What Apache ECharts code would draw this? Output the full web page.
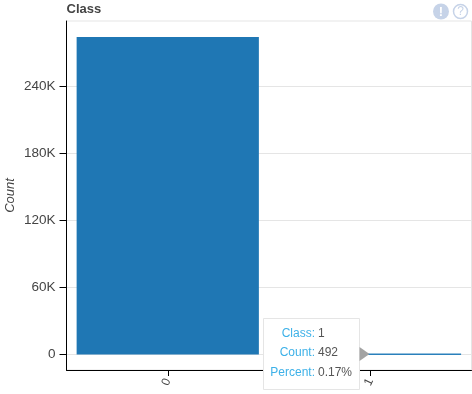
<!DOCTYPE html>
<html><head><meta charset="utf-8">
<style>html,body{margin:0;padding:0;background:#fff}#c{width:472px;height:394px}</style>
<script src="https://cdn.jsdelivr.net/npm/echarts@6/dist/echarts.min.js"></script>
</head><body><div id="c"></div>
<script>
const categories = ['0', '1'];
const counts = [284315, 492];
const yTicks = [0, 60000, 120000, 180000, 240000];
const tooltipKeys = ['Class:', 'Count:', 'Percent:'];
const tooltipVals = ['1', '492', '0.17%'];
const font = '"Liberation Sans", Helvetica, Arial, sans-serif';
const chart = echarts.init(document.getElementById('c'), null, {renderer: 'canvas'});
const rows = [];
tooltipKeys.forEach((k, i) => {
  rows.push({type: 'text', z: 101, x: 315, y: 333.5 + i * 19.5, style: {text: k, fill: '#3db1e8', font: '12px ' + font, align: 'right', verticalAlign: 'middle'}});
  rows.push({type: 'text', z: 101, x: 318, y: 333.5 + i * 19.5, style: {text: tooltipVals[i], fill: '#555', font: '12px ' + font, align: 'left', verticalAlign: 'middle'}});
});
chart.setOption({
  animation: false,
  backgroundColor: '#fff',
  title: {text: 'Class', left: 66.5, top: 3, padding: 0, textStyle: {fontFamily: font, fontSize: 13, fontWeight: 'bold', color: '#444'}},
  grid: {left: 66.5, right: 0.5, top: 21, bottom: 24, outerBoundsMode: 'none', containLabel: false, show: true, borderColor: '#e5e5e5', borderWidth: 1, backgroundColor: 'transparent'},
  xAxis: {
    type: 'category', data: categories,
    axisLine: {lineStyle: {color: '#000', width: 1}, onZero: false},
    axisTick: {show: true, alignWithLabel: true, length: 6, inside: false, lineStyle: {color: '#000'}},
    axisLabel: {rotate: 65, margin: 9, fontFamily: font, fontSize: 12, color: '#444'},
    splitLine: {show: false}
  },
  yAxis: {
    type: 'value', min: -13900, max: 298700,
    name: 'Count', nameLocation: 'middle', nameGap: 50, nameMoveOverlap: false,
    nameTextStyle: {fontFamily: font, fontSize: 13, fontStyle: 'italic', color: '#444'},
    axisLine: {show: true, lineStyle: {color: '#000'}},
    axisTick: {show: true, length: 7, customValues: yTicks, lineStyle: {color: '#000'}},
    axisLabel: {customValues: yTicks, margin: 11, fontFamily: font, fontSize: 13.5, color: '#444',
      formatter: v => v === 0 ? '0' : (v / 1000) + 'K'},
    splitLine: {show: true, lineStyle: {color: '#e5e5e5'}}
  },
  series: [{
    type: 'bar', barWidth: '90%',
    data: counts.map((v, i) => i === 1 ? {value: v, itemStyle: {borderColor: '#2a80bb', borderWidth: 1.5}} : v),
    itemStyle: {color: '#1f77b4'}
  }],
  graphic: [
    {type: 'rect', z: 100, shape: {x: 263.5, y: 318.5, width: 96, height: 71}, style: {fill: '#fff', stroke: '#e5e5e5', lineWidth: 1}},
    {type: 'polygon', z: 100, shape: {points: [[359.5, 347], [369.5, 354], [359.5, 361]]}, style: {fill: '#a3a3a3'}},
    ...rows,
    {type: 'circle', z: 100, shape: {cx: 441, cy: 11.5, r: 8}, style: {fill: '#c6d3e8'}},
    {type: 'text', z: 101, x: 441, y: 12, style: {text: '!', fill: '#fff', font: 'bold 13px ' + font, align: 'center', verticalAlign: 'middle'}},
    {type: 'circle', z: 100, shape: {cx: 460.5, cy: 11.5, r: 7}, style: {fill: '#fff', stroke: '#c6d3e8', lineWidth: 1.5}},
    {type: 'text', z: 101, x: 460.5, y: 12, style: {text: '?', fill: '#c6d3e8', font: '12px ' + font, align: 'center', verticalAlign: 'middle'}}
  ]
});
</script></body></html>
